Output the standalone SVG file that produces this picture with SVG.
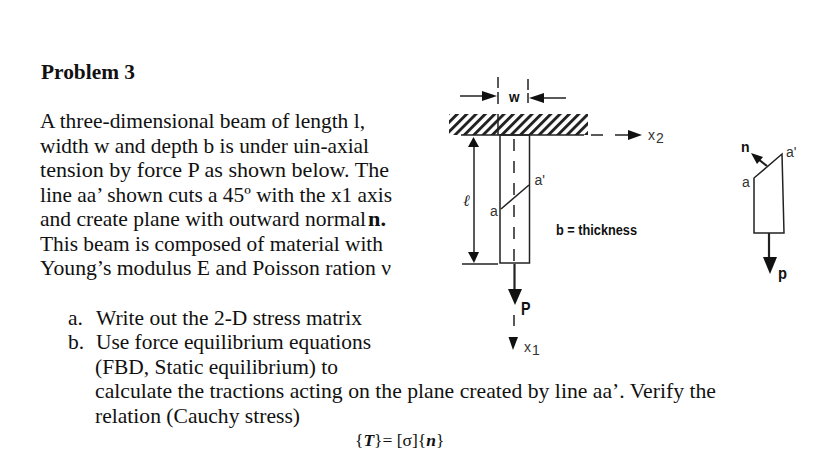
<svg xmlns="http://www.w3.org/2000/svg" width="830" height="461" viewBox="0 0 830 461">
<style>
.t{font-family:"Liberation Serif",serif;font-size:21.5px;fill:#111}
.s{font-family:"Liberation Sans",sans-serif;fill:#333;font-size:14px}
.b{font-family:"Liberation Sans",sans-serif;font-weight:bold;fill:#111}
.l{stroke:#222;stroke-width:1.5;fill:none}
.d{stroke:#222;stroke-width:1.5;fill:none;stroke-dasharray:12 10}
.h{stroke:#222;stroke-width:2.2}
.f{fill:#111}
</style>
<rect width="830" height="461" fill="#fff"/>
<g id="problem-text">
<text class="t" x="41" y="79" font-weight="bold" textLength="94" lengthAdjust="spacingAndGlyphs">Problem 3</text>
<text class="t" x="40" y="128" textLength="325" lengthAdjust="spacingAndGlyphs">A three-dimensional beam of length l,</text>
<text class="t" x="40" y="152.500" textLength="329" lengthAdjust="spacingAndGlyphs">width w and depth b is under uin-axial</text>
<text class="t" x="40" y="177" textLength="349" lengthAdjust="spacingAndGlyphs">tension by force P as shown below.  The</text>
<text class="t" x="40" y="201.500" textLength="352" lengthAdjust="spacingAndGlyphs">line aa’ shown cuts a 45º with the x1 axis</text>
<text class="t" x="40" y="226" textLength="326" lengthAdjust="spacingAndGlyphs">and create plane with outward normal</text>
<text class="t" x="368" y="226" font-weight="bold" textLength="18" lengthAdjust="spacingAndGlyphs">n.</text>
<text class="t" x="40" y="250.500" textLength="343" lengthAdjust="spacingAndGlyphs">This beam is composed of material with</text>
<text class="t" x="40" y="275" textLength="351" lengthAdjust="spacingAndGlyphs">Young’s modulus E and Poisson ration ν</text>
<text class="t" x="68" y="325">a.</text>
<text class="t" x="96" y="325" textLength="266" lengthAdjust="spacingAndGlyphs">Write out the 2-D stress matrix</text>
<text class="t" x="68" y="349">b.</text>
<text class="t" x="96" y="349" textLength="275" lengthAdjust="spacingAndGlyphs">Use force equilibrium equations</text>
<text class="t" x="95" y="374" textLength="243" lengthAdjust="spacingAndGlyphs">(FBD, Static equilibrium) to</text>
<text class="t" x="95" y="398" textLength="621" lengthAdjust="spacingAndGlyphs">calculate the tractions acting on the plane created by line aa’.  Verify the</text>
<text class="t" x="95" y="423" textLength="205" lengthAdjust="spacingAndGlyphs">relation (Cauchy stress)</text>
<text x="355" y="446" style="font-family:'Liberation Serif',serif;font-size:17.500px" fill="#111">{<tspan font-weight="bold" font-style="italic">T</tspan>}= [σ]{<tspan font-weight="bold" font-style="italic">n</tspan>}</text>
</g>
<defs>
<pattern id="hatch" width="6.6" height="6.6" patternUnits="userSpaceOnUse" patternTransform="rotate(45)">
<rect width="2.9" height="6.6" fill="#222"/>
</pattern>
</defs>
<g id="wall">
<rect x="449" y="114" width="139" height="21" fill="url(#hatch)"/>
<line class="l" x1="461" y1="135" x2="584" y2="135"/>
</g>
<g id="beam">
<rect class="l" x="500" y="135" width="29.500" height="128"/>
<line class="l" x1="501" y1="209" x2="529" y2="185"/>
<text class="s" x="534.500" y="185">a'</text>
<text class="s" x="490" y="216">a</text>
</g>
<g id="connectors">
<line class="l" x1="498" y1="77" x2="498" y2="88"/><line class="l" x1="498" y1="92" x2="498" y2="104"/><line class="l" x1="498" y1="114" x2="498" y2="135"/>
<line class="l" x1="528" y1="79" x2="528" y2="90"/><line class="l" x1="528" y1="93" x2="528" y2="103"/>
<line class="l" x1="460" y1="96" x2="482" y2="96"/><polygon class="f" points="497,96 482,91 482,101"/>
<line class="l" x1="566" y1="98" x2="544" y2="98"/><polygon class="f" points="529,98 544,93 544,103"/>
<line class="l" x1="591" y1="135" x2="603" y2="135"/>
<line class="l" x1="615" y1="135" x2="630" y2="135"/><polygon class="f" points="642,135 628,130 628,140"/>
<line class="d" x1="514" y1="139" x2="514" y2="262"/>
<line class="l" x1="474" y1="145" x2="474" y2="252"/>
<polygon class="f" points="473.500,137 468,147 479,147"/><polygon class="f" points="474,263 468,252 479,252"/>
<line class="l" x1="462" y1="264" x2="498" y2="264"/>
<line class="h" x1="514.500" y1="264" x2="514.500" y2="292"/>
<polygon class="f" points="515,305 508,289 522,289"/>
<line class="l" x1="514" y1="315" x2="514" y2="326"/>
<polygon class="f" points="513,350 508.500,337 518,337"/>
</g>
<g id="labels">
<text class="b" x="509" y="102" font-size="15" textLength="10.500" lengthAdjust="spacingAndGlyphs">w</text>
<text class="s" x="648" y="140" font-size="15">x</text><text class="s" x="656" y="143" font-size="12.500">2</text>
<text x="463" y="206" style="font-family:'Liberation Serif',serif;font-style:italic;font-size:16px" fill="#222">ℓ</text>
<text class="b" x="556" y="235" font-size="14" textLength="81" lengthAdjust="spacingAndGlyphs">b = thickness</text>
<text class="b" x="521" y="315" font-size="18" textLength="9.500" lengthAdjust="spacingAndGlyphs">P</text>
<text class="s" x="524" y="352" font-size="16">x</text><text class="s" x="532" y="355" font-size="12">1</text>
</g>
<g id="free-body">
<polygon class="l" points="754,178 782,154 784,233 754,233"/>
<line class="h" x1="769" y1="233" x2="769" y2="260"/>
<polygon class="f" points="770,274 763,257 777,257"/>
<line class="h" x1="767" y1="166" x2="758" y2="159"/>
<polygon class="f" points="751,153 763,157 757,164"/>
<text class="b" x="741" y="152" font-size="14">n</text>
<text class="s" x="786" y="157">a'</text>
<text class="s" x="742" y="187">a</text>
<text class="b" x="778" y="278.500" font-size="17" textLength="9" lengthAdjust="spacingAndGlyphs">p</text>
</g>
</svg>
